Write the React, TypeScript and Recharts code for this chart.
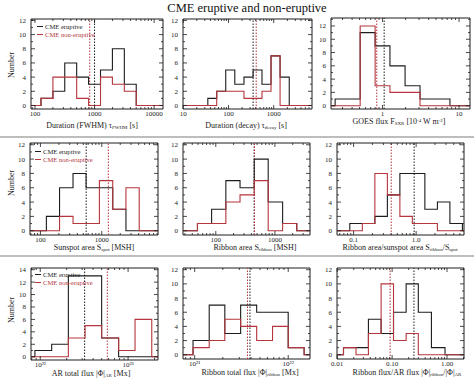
import React from 'react';
import { LineChart, Line, XAxis, YAxis, ReferenceLine, ReferenceArea } from 'recharts';

const FONT = '"Liberation Serif", "Times New Roman", serif';
const INK = '#1c1c1c';
const RED = '#b5363c';

// Duration (FWHM) [s]
const fwhmEdges = [126, 200, 316, 501, 794, 1259, 1995, 3162, 5012];
const fwhmErupt = [1, 2, 6, 4, 3, 5, 8, 3];
const fwhmNon = [1, 4, 4, 1, 0, 4, 3, 2];
const fwhmMeans = [1000, 830]; // eruptive, non-eruptive
const fwhmTicks = [100, 1000, 10000];
const fwhmLabels = ['100', '1000', '10000'];

// Duration (decay) [s]
const decayEdges = [35, 55, 87, 138, 220, 350, 550, 870, 1380, 2200];
const decayErupt = [1, 2, 5, 3, 4, 5, 3, 7, 4];
const decayNon = [0, 2, 2, 2, 1, 1, 2, 7, 0];
const decayMeans = [350, 410];
const decayTicks = [10, 100, 1000];
const decayLabels = ['10', '100', '1000'];

// GOES flux [1e-4 W m-2]
const goesEdges = [0.24, 0.51, 0.8, 1.25, 1.97, 3.09, 4.85, 7.6];
const goesErupt = [1, 11, 9, 6, 3, 1, 1];
const goesNon = [0, 12, 3, 2, 2, 0, 0];
const goesMeans = [1.05, 0.84];
const goesTicks = [1, 10];
const goesLabels = ['1', '10'];

// Sunspot area [MSH]
const spotEdges = [125, 205, 340, 555, 915, 1510, 2480, 4080];
const spotErupt = [2, 6, 8, 6, 6, 3, 0];
const spotNon = [0, 2, 1, 1, 7, 3, 6];
const spotMeans = [557, 1280];
const spotTicks = [100, 1000];
const spotLabels = ['100', '1000'];

// Ribbon area [MSH]
const ribEdges = [49, 85, 148, 257, 447, 770, 1350, 2340];
const ribErupt = [1, 3, 7, 6, 10, 4, 1];
const ribNon = [1, 1, 4, 5, 7, 0, 1];
const ribMeans = [445, 452];
const ribTicks = [100, 1000];
const ribLabels = ['100', '1000'];

// Ribbon area / sunspot area
const ratioEdges = [0.087, 0.138, 0.219, 0.347, 0.55, 0.87, 1.38, 2.19, 3.47, 5.5];
const ratioErupt = [1, 1, 2, 5, 8, 8, 3, 4, 1];
const ratioNon = [0, 1, 8, 5, 2, 1, 1, 0, 0];
const ratioMeans = [0.93, 0.4];
const ratioTicks = [0.1, 1];
const ratioLabels = ['0.1', '1.0'];

// AR total flux [Mx]
const arEdges = [8.7e21, 1.35e22, 2.09e22, 3.24e22, 5.0e22, 7.8e22, 1.2e23, 1.86e23];
const arErupt = [1, 2, 13, 13, 3, 0, 0];
const arNon = [0, 0, 3, 5, 3, 1, 6];
const arMeans = [3.2e22, 5.8e22];
const arTicks = [1e22, 1e23];
const arLabels = ['10²²', '10²³'];

// Ribbon total flux [Mx]
const rfEdges = [9.6e20, 1.43e21, 2.1e21, 3.1e21, 4.6e21, 6.8e21, 1.0e22, 1.48e22];
const rfErupt = [2, 7, 3, 7, 6, 6, 1];
const rfNon = [1, 2, 5, 4, 2, 4, 1];
const rfMeans = [3.9e21, 3.67e21];
const rfTicks = [1e21, 1e22];
const rfLabels = ['10²¹', '10²²'];

// Ribbon flux / AR flux
const frEdges = [0.013, 0.022, 0.037, 0.063, 0.106, 0.18, 0.3, 0.52, 0.92];
const frErupt = [1, 1, 5, 3, 6, 10, 6, 1];
const frNon = [1, 0, 3, 10, 2, 3, 0, 0];
const frMeans = [0.25, 0.092];
const frTicks = [0.01, 0.1, 1];
const frLabels = ['0.01', '0.10', '1.00'];

const yTicks12 = [0, 2, 4, 6, 8, 10, 12];
const yTicks14 = [0, 2, 4, 6, 8, 10, 12, 14];

// step outline of a histogram, flat at zero out to the axis ends
function hist(edges: number[], counts: number[], xd: number[]) {
  const pts = [{ x: xd[0], y: 0 }];
  counts.forEach((c, i) => pts.push({ x: edges[i], y: c }));
  pts.push({ x: edges[edges.length - 1], y: 0 });
  pts.push({ x: xd[1], y: 0 });
  return pts;
}

function minorLog(xd: number[], major: number[]) {
  const out: number[] = [];
  for (let n = Math.floor(Math.log10(xd[0])); n <= Math.ceil(Math.log10(xd[1])); n++) {
    for (let k = 1; k <= 9; k++) {
      const v = k * Math.pow(10, n);
      if (v > xd[0] && v < xd[1] && !major.some((m) => Math.abs(m - v) / v < 1e-6)) out.push(v);
    }
  }
  return out;
}

// IDL-style inward ticks on all four sides, as segments in data space
function frameTicks(p: any) {
  const [, , w, h] = p.box;
  const [x0, x1] = p.xd;
  const [y0, y1] = p.yd;
  const dy = (y1 - y0) / h;
  const dx = Math.log10(x1 / x0) / w;
  const segs: { x: number; y: number }[][] = [];
  const xt = [...p.xt.map((v: number) => [v, 4]), ...minorLog(p.xd, p.xt).map((v) => [v, 2])];
  const yMinor = [1, 3, 5, 7, 9, 11, 13].filter((v) => v < y1);
  const yt = [...p.yt.map((v: number) => [v, 4]), ...yMinor.map((v) => [v, 2])];
  xt.forEach(([v, len]) => {
    segs.push([{ x: v, y: y0 }, { x: v, y: y0 + len * dy }]);
    segs.push([{ x: v, y: y1 }, { x: v, y: y1 - len * dy }]);
  });
  yt.forEach(([v, len]) => {
    segs.push([{ x: x0, y: v }, { x: x0 * Math.pow(10, len * dx), y: v }]);
    segs.push([{ x: x1 * Math.pow(10, -len * dx), y: v }, { x: x1, y: v }]);
  });
  return segs;
}

const sub = (t: string) => <sub style={{ fontSize: '0.62em', verticalAlign: '-0.2em', lineHeight: 0 }}>{t}</sub>;
const sup = (t: string) => <sup style={{ fontSize: '0.62em', verticalAlign: '0.45em', lineHeight: 0 }}>{t}</sup>;

const panels = [
  { box: [31, 19, 132, 90], xd: [85.7, 14100], yd: [-0.5, 12.2], xt: fwhmTicks, xl: fwhmLabels, yt: yTicks12, edges: fwhmEdges, er: fwhmErupt, non: fwhmNon, means: fwhmMeans,
    title: <>Duration (FWHM) τ{sub('FWHM')} [s]</>, tc: [92, 126], number: 65, legend: [37, 23] },
  { box: [183, 19, 129, 90], xd: [9.9, 7000], yd: [-0.5, 12.2], xt: decayTicks, xl: decayLabels, yt: yTicks12, edges: decayEdges, er: decayErupt, non: decayNon, means: decayMeans,
    title: <>Duration (decay) τ{sub('decay')} [s]</>, tc: [246, 126] },
  { box: [331, 18, 139, 91], xd: [0.212, 13.9], yd: [-0.5, 13.2], xt: goesTicks, xl: goesLabels, yt: yTicks12, edges: goesEdges, er: goesErupt, non: goesNon, means: goesMeans,
    title: <>GOES flux F{sub('SXR')} [10{sup('-4')} W m{sup('-2')}]</>, tc: [399, 122] },
  { box: [30, 143, 128, 92], xd: [67.6, 8260], yd: [-0.6, 12.25], xt: spotTicks, xl: spotLabels, yt: yTicks12, edges: spotEdges, er: spotErupt, non: spotNon, means: spotMeans,
    title: <>Sunspot area S{sub('spot')} [MSH]</>, tc: [94, 248], number: 183, legend: [35, 148] },
  { box: [183, 143, 127, 92], xd: [27.9, 3920], yd: [-0.6, 12.25], xt: ribTicks, xl: ribLabels, yt: yTicks12, edges: ribEdges, er: ribErupt, non: ribNon, means: ribMeans,
    title: <>Ribbon area S{sub('ribbon')} [MSH]</>, tc: [255, 248] },
  { box: [337, 143, 127, 92], xd: [0.0543, 5.83], yd: [-0.6, 12.25], xt: ratioTicks, xl: ratioLabels, yt: yTicks12, edges: ratioEdges, er: ratioErupt, non: ratioNon, means: ratioMeans,
    title: <>Ribbon area/sunspot area S{sub('ribbon')}/S{sub('spot')}</>, tc: [400, 248] },
  { box: [31, 268, 127, 92], xd: [7.85e21, 2.19e23], yd: [-0.53, 14.27], xt: arTicks, xl: arLabels, yt: yTicks14, edges: arEdges, er: arErupt, non: arNon, means: arMeans,
    title: <>AR total flux |Φ|{sub('AR')} [Mx]</>, tc: [91, 374], number: 310, legend: [35, 271] },
  { box: [183, 268, 127, 91], xd: [7.5e20, 1.71e22], yd: [-0.6, 12.24], xt: rfTicks, xl: rfLabels, yt: yTicks12, edges: rfEdges, er: rfErupt, non: rfNon, means: rfMeans,
    title: <>Ribbon total flux |Φ|{sub('ribbon')} [Mx]</>, tc: [250, 373] },
  { box: [337, 268, 127, 91], xd: [0.0099, 2.04], yd: [-0.6, 12.24], xt: frTicks, xl: frLabels, yt: yTicks12, edges: frEdges, er: frErupt, non: frNon, means: frMeans,
    title: <>Ribbon flux/AR flux |Φ|{sub('ribbon')}/|Φ|{sub('AR')}</>, tc: [407, 373] },
];

function Panel({ p }: { p: any }) {
  const [l, t, w, h] = p.box;
  const tickStyle = { fontSize: 7, fill: INK, fontFamily: FONT };
  return (
    <div style={{ position: 'absolute', left: l - 32, top: t - 2 }}>
      <LineChart width={w + 34} height={h + 20} margin={{ top: 2, right: 2, bottom: 0, left: 0 }}>
        <XAxis xAxisId="x" type="number" scale="log" dataKey="x" domain={p.xd} allowDataOverflow interval={0}
          ticks={p.xt} tickFormatter={(_v: number, i: number) => p.xl[i]} tickLine={false} tickSize={0} tickMargin={2} height={18} axisLine={false} tick={tickStyle} />
        <YAxis yAxisId="y" type="number" domain={p.yd} allowDataOverflow interval={0}
          ticks={p.yt} tickLine={false} tickSize={0} tickMargin={5} width={32} axisLine={false} tick={tickStyle} />
        <ReferenceLine xAxisId="x" yAxisId="y" x={p.means[0]} stroke={INK} strokeWidth={1} strokeDasharray="1.5 1.5" />
        <ReferenceLine xAxisId="x" yAxisId="y" x={p.means[1]} stroke={RED} strokeWidth={1} strokeDasharray="1.5 1.5" />
        <Line xAxisId="x" yAxisId="y" data={hist(p.edges, p.er, p.xd)} dataKey="y" type="stepAfter" stroke={INK} strokeWidth={1.1} dot={false} activeDot={false} isAnimationActive={false} />
        <Line xAxisId="x" yAxisId="y" data={hist(p.edges, p.non, p.xd)} dataKey="y" type="stepAfter" stroke={RED} strokeWidth={1.1} dot={false} activeDot={false} isAnimationActive={false} />
        {frameTicks(p).map((seg, i) => (
          <ReferenceLine key={i} xAxisId="x" yAxisId="y" segment={seg} stroke={INK} strokeWidth={0.8} ifOverflow="visible" />
        ))}
        <ReferenceArea xAxisId="x" yAxisId="y" x1={p.xd[0]} x2={p.xd[1]} y1={p.yd[0]} y2={p.yd[1]} fill="none" stroke={INK} strokeWidth={1} ifOverflow="visible" />
      </LineChart>
    </div>
  );
}

const labelStyle: React.CSSProperties = { position: 'absolute', fontFamily: FONT, fontSize: 8, color: INK, whiteSpace: 'nowrap', lineHeight: '8px' };

function LegendBox({ x, y }: { x: number; y: number }) {
  const row = (color: string, text: string) => (
    <div style={{ display: 'flex', alignItems: 'center', height: 7.5, color }}>
      <span style={{ display: 'inline-block', width: 6, height: 1, background: color, marginRight: 2 }} />
      {text}
    </div>
  );
  return (
    <div style={{ position: 'absolute', left: x, top: y, fontFamily: FONT, fontSize: 6.6, lineHeight: '7.5px', whiteSpace: 'nowrap' }}>
      {row(INK, 'CME eruptive')}
      {row(RED, 'CME non-eruptive')}
    </div>
  );
}

export default function App() {
  return (
    <div style={{ position: 'absolute', left: 0, top: 0, width: 474, height: 382, background: '#fff', overflow: 'hidden' }}>
      <div style={{ position: 'absolute', left: 247, top: 2, transform: 'translateX(-50%)', fontFamily: FONT, fontSize: 12.5, lineHeight: '12.5px', color: '#111', whiteSpace: 'nowrap' }}>
        CME eruptive and non-eruptive
      </div>
      <div style={{ position: 'absolute', left: 0, top: 136, width: 474, height: 2, background: '#bdbdbd' }} />
      <div style={{ position: 'absolute', left: 0, top: 255, width: 474, height: 2, background: '#bdbdbd' }} />
      {panels.map((p, i) => (
        <React.Fragment key={i}>
          <Panel p={p} />
          <div style={{ ...labelStyle, left: p.tc[0], top: p.tc[1] - 4, transform: 'translateX(-50%)' }}>{p.title}</div>
          {p.number !== undefined && (
            <div style={{ ...labelStyle, left: 12, top: p.number - 4, transform: 'translateX(-50%) rotate(-90deg)' }}>Number</div>
          )}
          {p.legend && <LegendBox x={p.legend[0]} y={p.legend[1]} />}
        </React.Fragment>
      ))}
    </div>
  );
}
